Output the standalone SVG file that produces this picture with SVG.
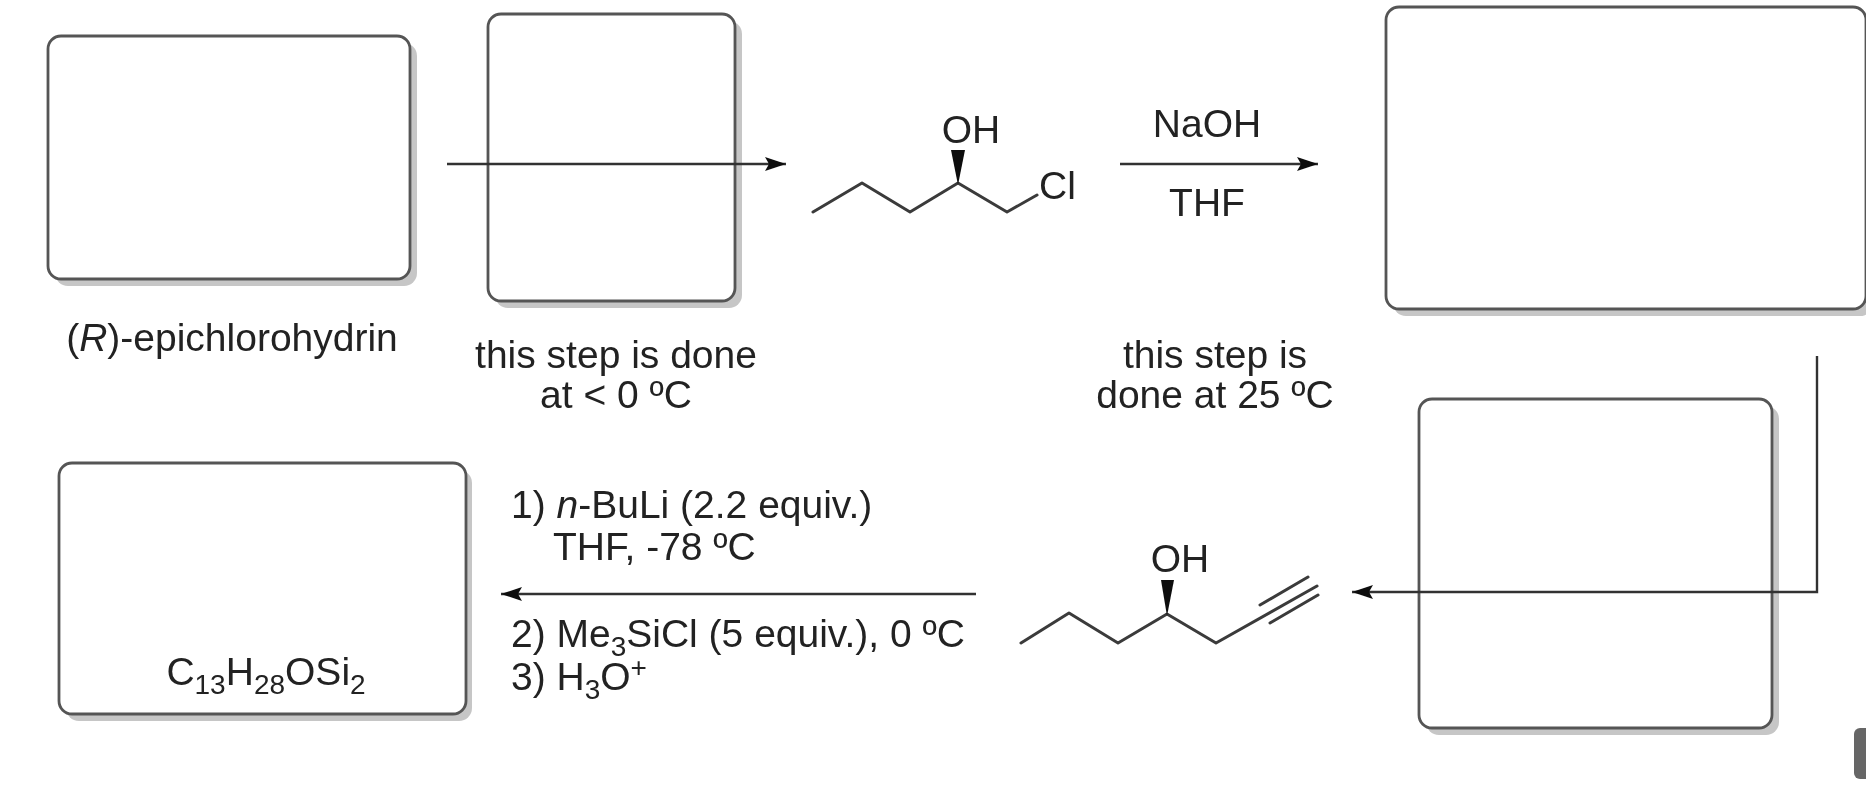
<svg xmlns="http://www.w3.org/2000/svg" width="1866" height="786" viewBox="0 0 1866 786">
<style>
text{font-family:"Liberation Sans",Arial,sans-serif;font-size:39px;fill:#222}
.m{text-anchor:middle}
.sub{font-size:28px}
.sh{fill:#c6c6c6}
.bx{fill:#fff;stroke:#555;stroke-width:2.8}
.b{fill:none;stroke:#3a3a3a;stroke-width:3;stroke-linejoin:round;stroke-linecap:round}
.c{fill:none;stroke:#333;stroke-width:2.4}
.w{fill:#111}
</style>
<defs>
<marker id="a" markerUnits="userSpaceOnUse" markerWidth="22" markerHeight="14" refX="21" refY="7" orient="auto"><path d="M0 0L21 7L0 14L4 7Z" fill="#111"/></marker>
<filter id="s" x="-5%" y="-5%" width="110%" height="110%"><feGaussianBlur stdDeviation="0.7"/></filter>
</defs>
<g filter="url(#s)">
<g id="box1"><rect class="sh" x="55" y="43" width="362" height="243" rx="13"/><rect class="bx" x="48" y="36" width="362" height="243" rx="13"/></g>
<g id="box2"><rect class="sh" x="495" y="21" width="247" height="287" rx="13"/><rect class="bx" x="488" y="14" width="247" height="287" rx="13"/></g>
<g id="box3"><rect class="sh" x="1393" y="14" width="480" height="302" rx="13"/><rect class="bx" x="1386" y="7" width="480" height="302" rx="13"/></g>
<g id="box4"><rect class="sh" x="1426" y="406" width="353" height="329" rx="13"/><rect class="bx" x="1419" y="399" width="353" height="329" rx="13"/></g>
<g id="box5"><rect class="sh" x="66" y="470" width="406" height="251" rx="13"/><rect class="bx" x="59" y="463" width="407" height="251" rx="13"/>
<text class="m" x="266" y="685">C<tspan class="sub" dy="9">13</tspan><tspan dy="-9">H</tspan><tspan class="sub" dy="9">28</tspan><tspan dy="-9">OSi</tspan><tspan class="sub" dy="9">2</tspan></text></g>
<g id="connectors">
<path class="c" marker-end="url(#a)" d="M447 164H786"/>
<path class="c" marker-end="url(#a)" d="M1120 164H1318"/>
<path class="c" marker-end="url(#a)" d="M1817 356V592H1352"/>
<path class="c" marker-end="url(#a)" d="M976 594H501"/>
</g>
<g id="mol1">
<path class="b" d="M813 212L862 183L910 212L958 183L1007 212L1037 195"/>
<path class="w" d="M958 185L951 150H965Z"/>
<text class="m" x="971" y="143">OH</text>
<text x="1039" y="199">Cl</text>
</g>
<g id="mol2">
<path class="b" d="M1021 643L1069 613L1118 643L1167 614L1216 643L1317 586"/>
<path class="b" d="M1260 605L1308 577M1270 623L1318 595"/>
<path class="w" d="M1167 616L1161 580H1174Z"/>
<text class="m" x="1180" y="572">OH</text>
</g>
<g id="labels">
<text class="m" x="1207" y="137">NaOH</text>
<text class="m" x="1207" y="216">THF</text>
<text class="m" x="232" y="351">(<tspan font-style="italic">R</tspan>)-epichlorohydrin</text>
<text class="m" x="616" y="368">this step is done</text>
<text class="m" x="616" y="408">at &lt; 0 ºC</text>
<text class="m" x="1215" y="368">this step is</text>
<text class="m" x="1215" y="408">done at 25 ºC</text>
<text x="511" y="518">1) <tspan font-style="italic">n</tspan>-BuLi (2.2 equiv.)</text>
<text x="553" y="560">THF, -78 ºC</text>
<text x="511" y="647">2) Me<tspan class="sub" dy="9">3</tspan><tspan dy="-9">SiCl (5 equiv.), 0 ºC</tspan></text>
<text x="511" y="690">3) H<tspan class="sub" dy="9">3</tspan><tspan dy="-9">O</tspan><tspan class="sub" dy="-13">+</tspan></text>
</g>
<rect x="1854" y="728" width="20" height="51" rx="6" fill="#666"/>
</g>
</svg>
